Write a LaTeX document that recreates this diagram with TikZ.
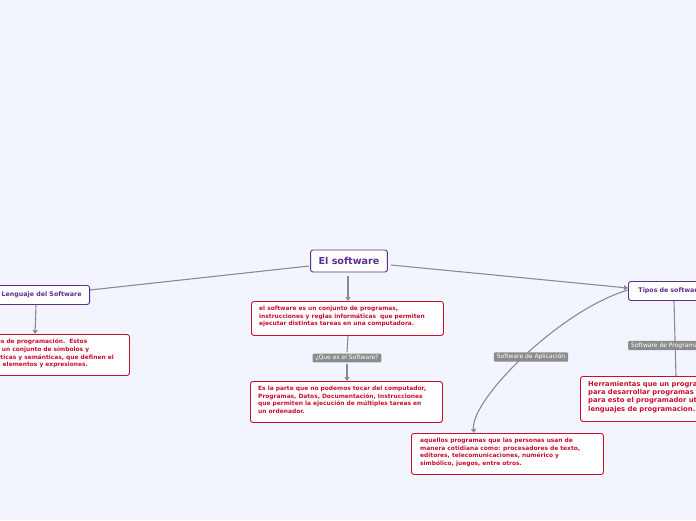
\documentclass[tikz,border=0pt]{standalone}
\usepackage{fontspec}
\setmainfont{DejaVu Sans}
\usetikzlibrary{arrows.meta}
\definecolor{bg}{HTML}{F3F5FE}
\definecolor{pur}{HTML}{5E2D91}
\definecolor{rd}{HTML}{C8102E}
\definecolor{ln}{HTML}{8A8A96}
\definecolor{lb}{HTML}{8C8C8C}
\begin{document}
\begin{tikzpicture}[x=1pt,y=-1pt,
 main/.style={draw=pur,line width=0.9pt,rounded corners=2.5pt,fill=white,text=pur,font=\fontsize{9.6}{10}\selectfont\bfseries,minimum height=22pt,inner xsep=8pt},
 sub/.style={draw=pur,line width=0.9pt,rounded corners=2.5pt,fill=white,text=pur,font=\fontsize{6.3}{7}\selectfont\bfseries,minimum height=19pt,inner xsep=8pt},
 txt/.style={draw=rd,line width=0.9pt,rounded corners=2.5pt,fill=white,anchor=north west,inner sep=0pt},
 tx/.style={text=rd,font=\fontsize{5.9}{7.6}\selectfont\bfseries,align=left,inner sep=0pt,anchor=north west},
 lbl/.style={fill=lb,text=white,font=\fontsize{6}{7}\selectfont,inner xsep=3pt,inner ysep=1.5pt,rounded corners=1pt},
 con/.style={draw=ln,line width=1.1pt},
 arr/.style={con,-{Triangle[width=5pt,length=4pt]}}]
\useasboundingbox (0,0) rectangle (696,520);
\clip (0,0) rectangle (696,520);
\fill[bg] (0,0) rectangle (696,520);
% edges
\draw[con] (309,266) -- (90,290);
\draw[arr] (391,265) -- (628,288);
\draw[arr] (348,276) -- (348,301);
\draw[arr] (36,305) -- (35,334);
\draw[con] (348,336) -- (347,352);
\draw[arr] (347,364) -- (347,381);
\draw[arr] (628,290) .. controls (560,310) and (470,400) .. (474,433);
\draw[con] (674,301) -- (676,376);
% nodes
\node[main] (el) at (349,261) {El software};
\node[sub,anchor=east] (len) at (90,295) {Lenguaje del Software};
\node[sub,anchor=west,minimum width=100pt,align=left,text width=80pt] (tip) at (628,291) {Tipos de software};
\node[txt,minimum width=192pt,minimum height=34pt] (def) at (251,301) {};
\node[tx] at (259,306) {el software es un conjunto de programas,\\instrucciones y reglas informáticas\ \ que permiten\\ejecutar distintas tareas en una computadora.};
\node[txt,minimum width=192pt,minimum height=41pt] (es) at (250,381) {};
\node[tx] at (258,386) {Es la parte que no podemos tocar del computador,\\Programas, Datos, Documentación, Instrucciones\\que permiten la ejecución de múltiples tareas en\\un ordenador.};
\node[txt,minimum width=160pt,minimum height=41pt] (lt) at (-31,334) {};
\node[tx,anchor=north east] at (114,339) {Son lenguajes de programación.\ \ Estos\\consisten en un conjunto de símbolos y\\reglas sintácticas y semánticas, que definen el\\orden de sus elementos y expresiones.};
\node[txt,minimum width=192pt,minimum height=41pt] (aq) at (411,433) {};
\node[tx] at (420,438) {aquellos programas que las personas usan de\\manera cotidiana como: procesadores de texto,\\editores, telecomunicaciones, numérico y\\simbólico, juegos, entre otros.};
\node[txt,minimum width=160pt,minimum height=45pt] (her) at (580,376) {};
\node[tx,font=\fontsize{6.8}{8.3}\selectfont\bfseries] at (588,381) {Herramientas que un programador utiliza\\para desarrollar programas informáticos,\\para esto el programador utiliza\\lenguajes de programacion.};
\node[lbl] (l1) at (347,358) {¿Que es el Software?};
\node[lbl] (l2) at (531,357) {Software de Aplicación};
\node[lbl,anchor=west] (l3) at (628,345.5) {Software de Programación};
\end{tikzpicture}
\end{document}
